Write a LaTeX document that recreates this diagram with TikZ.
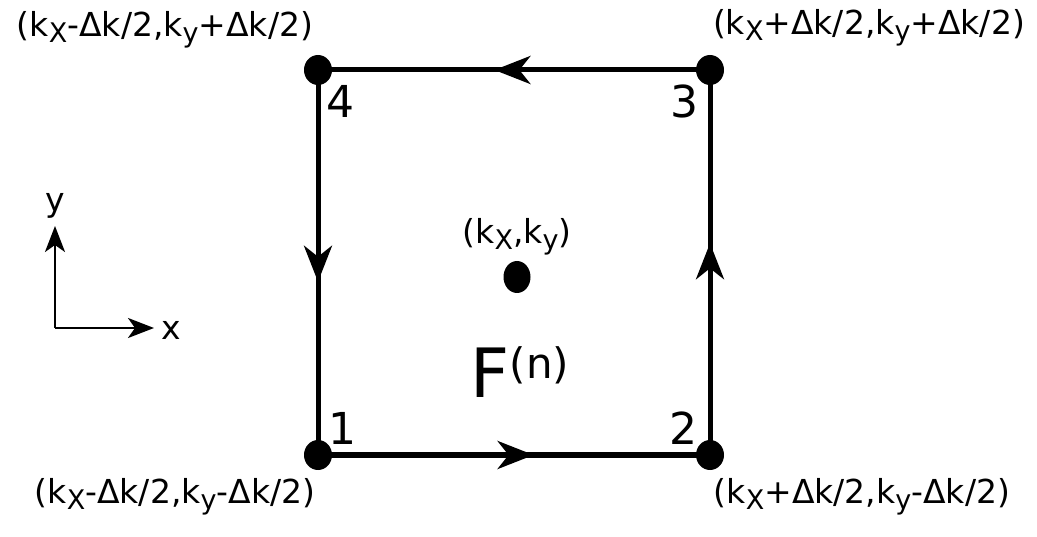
\documentclass[tikz,border=0pt]{standalone}
\usepackage{fontspec}
\setmainfont{DejaVu Sans}
\usetikzlibrary{arrows.meta,decorations.markings,shapes.geometric}
\newcommand{\sbx}[1]{\raisebox{-0.35ex}{\fontsize{27}{27}\selectfont #1}}
\begin{document}
\begin{tikzpicture}[x=1pt,y=-1pt,
  dot/.style={ellipse,fill=black,minimum width=28pt,minimum height=30pt,inner sep=0pt},
  lbl/.style={font=\fontsize{33}{36}\selectfont,inner sep=0pt},
  num/.style={font=\fontsize{44}{46}\selectfont,inner sep=0pt},
  edge/.style={line width=5pt,postaction={decorate},decoration={markings,mark=at position 0.55 with {\arrow{Stealth[length=36pt,width=28pt,inset=11pt]}}}},
  ax/.style={line width=2.5pt,-{Stealth[length=26pt,width=20pt,inset=7pt]}}]
\useasboundingbox (0,0) rectangle (1037,537);
\node[dot] (p1) at (318,455) {};
\node[dot] (p2) at (710,455) {};
\node[dot] (p3) at (710,70) {};
\node[dot] (p4) at (318,70) {};
\node[dot,minimum width=27pt,minimum height=32pt] (c) at (517,277) {};
\draw[edge] (p1.center) -- (p2.center);
\draw[edge] (p2.center) -- (p3.center);
\draw[edge] (p3.center) -- (p4.center);
\draw[edge] (p4.center) -- (p1.center);
\coordinate (o) at (55,328);
\coordinate (ye) at (55,226);
\coordinate (xe) at (154,328);
\draw[ax] (o) -- (ye);
\draw[ax] (o) -- (xe);
\node[lbl] (ly) at (55,206) {y};
\node[lbl] (lx) at (171,330) {x};
\node[lbl] (t4) at (165,30) {(k\sbx{X}-Δk/2,k\sbx{y}+Δk/2)};
\node[lbl] (t3) at (869,28) {(k\sbx{X}+Δk/2,k\sbx{y}+Δk/2)};
\node[lbl] (t1) at (175,497) {(k\sbx{X}-Δk/2,k\sbx{y}-Δk/2)};
\node[lbl] (t2) at (862,497) {(k\sbx{X}+Δk/2,k\sbx{y}-Δk/2)};
\node[lbl] (tc) at (517,237) {(k\sbx{X},k\sbx{y})};
\node[num] (n4) at (340,101) {4};
\node[num] (n3) at (684,101) {3};
\node[num] (n1) at (342,428) {1};
\node[num] (n2) at (683,428) {2};
\node[inner sep=0pt,font=\fontsize{68}{70}\selectfont] (F) at (520,372) {F\raisebox{0.5ex}{\fontsize{42}{44}\selectfont (n)}};
\end{tikzpicture}
\end{document}
